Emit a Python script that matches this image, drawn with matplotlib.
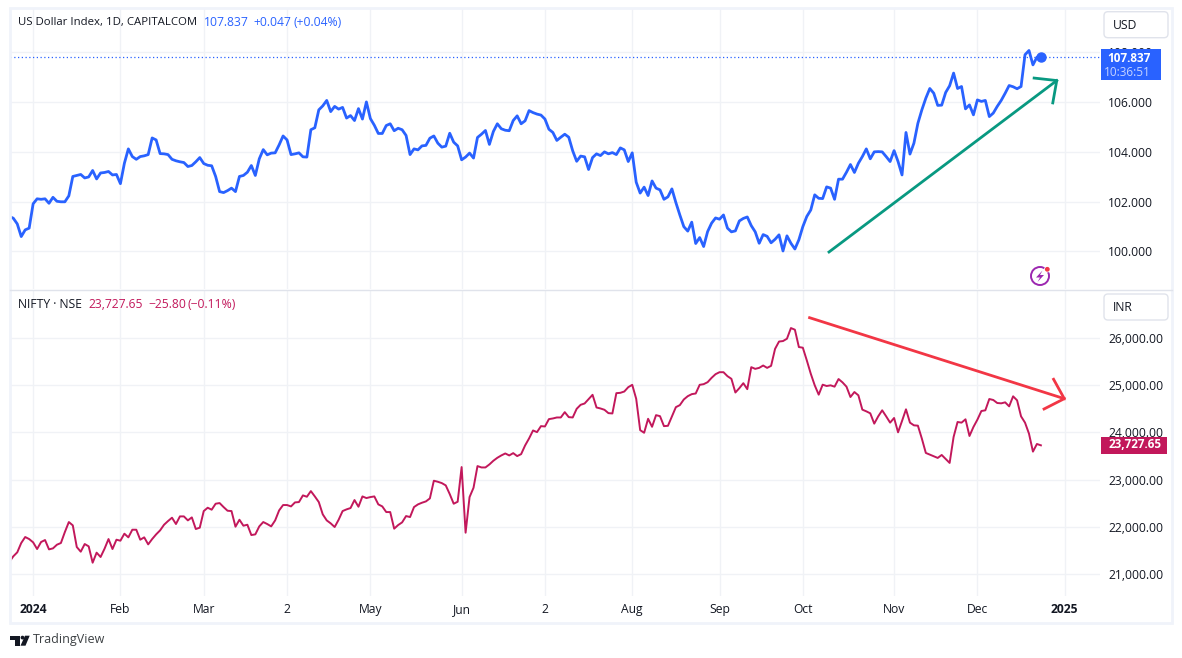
import matplotlib
matplotlib.use("Agg")
import matplotlib.pyplot as plt
from matplotlib.patches import Circle, FancyBboxPatch, Polygon, Rectangle

plt.rcParams["font.family"] = ["Open Sans", "DejaVu Sans"]

# -----------------------------------
# 0. Data (one value per daily bar)
# -----------------------------------
dxy_close = [
    101.40, 101.33, 101.10, 100.59, 100.86, 100.93, 101.91, 102.11, 102.09, 102.11,
    101.93, 102.17, 102.01, 101.99, 101.99, 102.23, 103.01, 103.05, 103.09, 102.95,
    102.99, 103.25, 102.91, 103.15, 103.17, 103.21, 103.07, 103.09, 102.72, 103.54,
    104.12, 103.81, 103.70, 103.81, 103.84, 103.89, 104.56, 104.48, 103.93, 103.92,
    103.89, 103.70, 103.64, 103.60, 103.57, 103.41, 103.45, 103.60, 103.77, 103.53,
    103.46, 103.44, 103.01, 102.40, 102.36, 102.44, 102.54, 102.40, 103.01, 103.05,
    103.18, 103.45, 103.05, 103.72, 104.09, 103.88, 103.95, 103.96, 104.28, 104.64,
    104.48, 103.89, 103.92, 103.96, 103.80, 103.79, 104.89, 104.97, 105.69, 105.85,
    106.07, 105.62, 105.83, 105.72, 105.79, 105.36, 105.46, 105.26, 105.74, 105.32,
    106.01, 105.34, 105.07, 104.74, 104.74, 105.06, 105.13, 104.85, 104.95, 104.89,
    104.66, 103.89, 104.12, 104.08, 104.24, 104.26, 104.55, 104.64, 104.35, 104.19,
    104.23, 104.75, 104.39, 104.24, 103.68, 103.79, 103.95, 103.75, 104.58, 104.71,
    104.86, 104.30, 104.82, 105.13, 104.93, 104.87, 104.85, 105.26, 105.45, 105.13,
    105.25, 105.66, 105.58, 105.52, 105.48, 105.32, 104.91, 104.78, 104.46, 104.59,
    104.71, 104.59, 104.04, 103.62, 103.83, 103.80, 103.29, 103.77, 103.92, 103.85,
    104.00, 103.92, 103.97, 103.89, 104.16, 104.08, 103.61, 103.96, 102.78, 102.34,
    102.58, 102.24, 102.83, 102.54, 102.47, 102.09, 102.19, 102.51, 101.96, 101.46,
    100.99, 100.81, 101.17, 100.31, 100.55, 100.19, 100.79, 101.13, 101.34, 101.29,
    101.46, 100.93, 100.78, 100.82, 101.22, 101.32, 101.38, 101.03, 100.78, 100.32,
    100.67, 100.60, 100.34, 100.48, 100.66, 100.01, 100.62, 100.32, 100.09, 100.46,
    100.99, 101.40, 101.66, 102.27, 102.13, 102.12, 102.59, 102.54, 102.09, 102.90,
    102.90, 103.18, 103.49, 103.17, 103.54, 103.81, 104.12, 103.72, 104.00, 104.01,
    104.00, 103.81, 103.61, 104.05, 103.61, 103.07, 104.78, 103.91, 104.35, 105.15,
    105.69, 106.16, 106.55, 106.36, 105.87, 105.88, 106.39, 106.66, 107.17, 106.55,
    106.63, 105.73, 105.89, 105.49, 106.09, 106.03, 106.07, 105.42, 105.56, 105.83,
    106.07, 106.36, 106.67, 106.62, 106.54, 106.63, 107.91, 108.08, 107.50, 107.81,
    107.837,
]

nifty_close = [
    21251, 21371, 21456, 21654, 21781, 21738, 21668, 21526, 21675, 21717,
    21519, 21540, 21618, 21654, 21887, 22099, 22028, 21569, 21470, 21632,
    21583, 21236, 21449, 21357, 21533, 21738, 21526, 21724, 21703, 21852,
    21774, 21936, 21936, 21724, 21774, 21625, 21738, 21837, 21922, 22042,
    22120, 22191, 22057, 22219, 22219, 22134, 22198, 21951, 21979, 22332,
    22403, 22361, 22488, 22502, 22417, 22339, 22332, 22000, 22148, 22021,
    22042, 21823, 21837, 22007, 22099, 22057, 22007, 22134, 22346, 22460,
    22460, 22431, 22516, 22523, 22665, 22636, 22756, 22643, 22523, 22262,
    22134, 22071, 21993, 22148, 22332, 22368, 22396, 22566, 22424, 22643,
    22608, 22629, 22643, 22474, 22431, 22311, 22311, 21958, 22035, 22092,
    22226, 22205, 22417, 22474, 22509, 22537, 22601, 22976, 22954, 22926,
    22877, 22693, 22488, 22530, 23266, 21873, 22629, 22827, 23287, 23258,
    23258, 23322, 23400, 23463, 23513, 23555, 23513, 23562, 23499, 23541,
    23725, 23874, 24043, 24008, 24135, 24128, 24284, 24298, 24319, 24319,
    24432, 24326, 24319, 24503, 24588, 24616, 24708, 24800, 24531, 24510,
    24482, 24411, 24404, 24835, 24842, 24870, 24962, 25012, 24715, 24050,
    23994, 24291, 24121, 24368, 24347, 24135, 24142, 24340, 24538, 24581,
    24701, 24771, 24814, 24828, 25012, 25026, 25068, 25160, 25238, 25280,
    25280, 25196, 25139, 24849, 24941, 25047, 24920, 25387, 25351, 25372,
    25422, 25372, 25415, 25775, 25931, 25941, 25991, 26217, 26182, 25814,
    25800, 25531, 25248, 25001, 24803, 25015, 24987, 25001, 24973, 25135,
    25064, 24973, 24753, 24859, 24789, 24485, 24449, 24407, 24188, 24343,
    24471, 24343, 24209, 24308, 24004, 24244, 24492, 24209, 24152, 24145,
    23870, 23566, 23530, 23495, 23460, 23523, 23438, 23354, 23905, 24223,
    24209, 24280, 23926, 24117, 24273, 24456, 24471, 24711, 24690, 24626,
    24619, 24640, 24555, 24768, 24683, 24343, 24209, 23976, 23594, 23756,
    23727.65,
]

month_bars = [6, 28, 49, 70, 91, 114, 135, 157, 179, 200, 223, 244, 266]
month_labels = ["2024", "Feb", "Mar", "2", "May", "Jun", "2", "Aug", "Sep", "Oct", "Nov", "Dec", "2025"]
bold_labels = ["2024", "2025"]

dxy_ticks = [100, 102, 104, 106, 108]
nifty_ticks = [21000, 22000, 23000, 24000, 25000, 26000]

# arrows as (bar, price): tail, tip, and the two ends of the head
green_arrow_bars = [206.6, 264.0, 258.3, 263.0]
green_arrow_prices = [99.97, 106.87, 106.97, 105.97]
red_arrow_bars = [201.7, 265.9, 263.2, 260.8]
red_arrow_prices = [26437, 24718, 25130, 24499]

BLUE = "#2962ff"
CRIMSON = "#c2185b"
GREEN = "#089981"
RED = "#f23645"
GRID = "#f0f2f6"
FRAME = "#f0f3fa"
TEXT = "#131722"

# -----------------------------------
# 1. Figure and panes (pixel layout helpers)
# -----------------------------------
W, H = 1182, 658
fig = plt.figure(figsize=(W / 100, H / 100), dpi=100, facecolor="white")


def pane(left, top, right, bottom):
    return fig.add_axes([left / W, 1 - bottom / H, (right - left) / W, (bottom - top) / H])


ax_top = pane(10, 8, 1100, 289)
ax_low = pane(10, 290, 1100, 596)
bars_dxy = list(range(len(dxy_close)))
bars_nifty = list(range(len(nifty_close)))

for ax in (ax_top, ax_low):
    ax.set_xlim(0.17, 274.9)
    ax.set_xticks(month_bars)
    ax.grid(True, color=GRID, lw=1)
    ax.set_axisbelow(True)
    ax.yaxis.tick_right()
    ax.tick_params(length=0, labelsize=8.7, labelcolor=TEXT, pad=6)
    for s in ax.spines.values():
        s.set_visible(False)

# -----------------------------------
# 2. US Dollar Index
# -----------------------------------
ax_top.set_ylim(98.48, 109.79)
ax_top.set_yticks(dxy_ticks)
ax_top.set_yticklabels([f"{v:.3f}" for v in dxy_ticks])
ax_top.tick_params(labelbottom=False)
ax_top.plot(bars_dxy, dxy_close, color=BLUE, lw=2, solid_joinstyle="round")
ax_top.plot(bars_dxy[-1], dxy_close[-1], "o", color=BLUE, ms=6.5)
ax_top.axhline(dxy_close[-1], color=BLUE, lw=0.9, ls=(0, (1, 2)))
ax_top.plot(green_arrow_bars[:2], green_arrow_prices[:2], color=GREEN, lw=2)
ax_top.plot(
    [green_arrow_bars[2], green_arrow_bars[1], green_arrow_bars[3]],
    [green_arrow_prices[2], green_arrow_prices[1], green_arrow_prices[3]],
    color=GREEN, lw=2,
)

# -----------------------------------
# 3. NIFTY
# -----------------------------------
ax_low.set_ylim(20529, 27025)
ax_low.set_yticks(nifty_ticks)
ax_low.set_yticklabels([f"{v:,.2f}" for v in nifty_ticks])
ax_low.set_xticklabels(month_labels, va="baseline")
ax_low.tick_params(axis="x", pad=12.2)
for lab in ax_low.get_xticklabels():
    if lab.get_text() in bold_labels:
        lab.set_fontweight("bold")
ax_low.plot(bars_nifty, nifty_close, color=CRIMSON, lw=1.4, solid_joinstyle="round")
ax_low.plot(red_arrow_bars[:2], red_arrow_prices[:2], color=RED, lw=2)
ax_low.plot(
    [red_arrow_bars[2], red_arrow_bars[1], red_arrow_bars[3]],
    [red_arrow_prices[2], red_arrow_prices[1], red_arrow_prices[3]],
    color=RED, lw=2,
)

# -----------------------------------
# 4. TradingView furniture, drawn on a pixel overlay
# -----------------------------------
ov = fig.add_axes([0, 0, 1, 1], zorder=5)
ov.set_xlim(0, W)
ov.set_ylim(H, 0)
ov.axis("off")

# outer frame and pane separator
ov.add_patch(Rectangle((10, 8), 1162, 614.5, fc="none", ec=FRAME, lw=2))
ov.plot([10, 1172], [289.5, 289.5], color="#e0e3eb", lw=1)

# legends
ov.text(18, 23, "US Dollar Index, 1D, CAPITALCOM", fontsize=8.2, color=TEXT, va="center")
ov.text(204, 23, "107.837", fontsize=8.7, color=BLUE, va="center")
ov.text(253, 23, "+0.047", fontsize=8.7, color=BLUE, va="center")
ov.text(293, 23, "(+0.04%)", fontsize=8.7, color=BLUE, va="center")
ov.text(18, 305, "NIFTY · NSE", fontsize=8.7, color=TEXT, va="center")
ov.text(88, 305, "23,727.65", fontsize=8.7, color=CRIMSON, va="center")
ov.text(148, 305, "−25.80", fontsize=8.7, color=CRIMSON, va="center")
ov.text(187, 305, "(−0.11%)", fontsize=8.7, color=CRIMSON, va="center")

# currency buttons
for top, name in [(11.7, "USD"), (294, "INR")]:
    ov.add_patch(FancyBboxPatch((1104, top), 64, 26, boxstyle="round,pad=0,rounding_size=4",
                                fc="white", ec="#e0e3eb", lw=1))
    ov.text(1113, top + 13.5, name, fontsize=8.7, color=TEXT, va="center")

# last price tags
ov.add_patch(Rectangle((1101, 49), 60, 31, fc=BLUE, ec="none"))
ov.text(1151, 58, "107.837", fontsize=8.5, color="white", weight="bold", ha="right", va="center")
ov.text(1151, 72, "10:36:51", fontsize=8.5, color="#c5d3ff", ha="right", va="center")
ov.add_patch(Rectangle((1101, 437), 66, 16.7, fc=CRIMSON, ec="none"))
ov.text(1161.5, 445, "23,727.65", fontsize=8.4, color="white", weight="bold", ha="right", va="center")

# lightning badge
ov.add_patch(Circle((1040, 276), 9, fc="white", ec="#9c27b0", lw=1.4))
ov.add_patch(Polygon([(1042.5, 270.5), (1036, 277.5), (1040, 277.5), (1037.5, 282),
                      (1044, 275), (1040, 275)], fc="#9c27b0", ec="none"))
ov.add_patch(Circle((1047.3, 269.3), 3.2, fc="white", ec="none"))
ov.add_patch(Circle((1047.3, 269.3), 2.4, fc=RED, ec="none"))

# logo
ov.add_patch(Polygon([(10, 635.7), (20, 635.7), (20, 645.7), (14.5, 645.7), (14.5, 639.5), (10, 639.5)],
                     fc=TEXT, ec="none"))
ov.add_patch(Circle((22.5, 637.6), 1.9, fc=TEXT, ec="none"))
ov.add_patch(Polygon([(25, 635.7), (29.7, 635.7), (25.5, 645.7), (20.5, 645.7)], fc=TEXT, ec="none"))
ov.text(33, 640, "TradingView", fontsize=9, color="#3c4043", va="center")

fig.savefig("out.png", dpi=100)
plt.close(fig)
